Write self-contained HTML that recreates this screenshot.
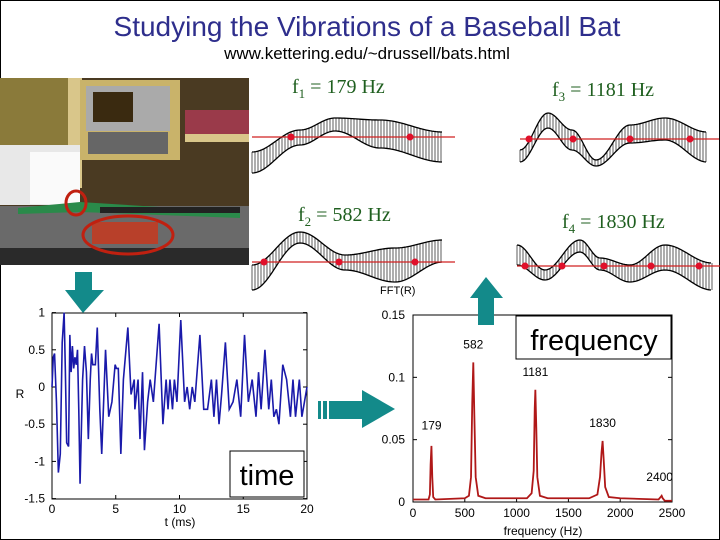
<!DOCTYPE html>
<html><head><meta charset="utf-8"><style>
body{margin:0;width:720px;height:540px;overflow:hidden;background:#fff;font-family:"Liberation Sans",sans-serif}
svg{position:absolute;left:0;top:0}
</style></head><body>
<svg width="720" height="540" viewBox="0 0 720 540">
<rect x="0.5" y="0.5" width="719" height="539" fill="#fff" stroke="#000"/>
<text x="367" y="36" text-anchor="middle" font-size="28" fill="#2e2e8c">Studying the Vibrations of a Baseball Bat</text>
<text x="367" y="59" text-anchor="middle" font-size="17" fill="#000">www.kettering.edu/~drussell/bats.html</text>
<g>
<rect x="0" y="78" width="249" height="187" fill="#4a3a22"/>
<rect x="0" y="78" width="70" height="110" fill="#8a7a3a"/>
<rect x="68" y="78" width="14" height="110" fill="#d9c68a"/>
<rect x="80" y="80" width="100" height="80" fill="#c9b36a"/>
<rect x="86" y="86" width="84" height="45" fill="#aaa"/>
<rect x="93" y="92" width="40" height="30" fill="#3a2a10"/>
<rect x="88" y="132" width="80" height="22" fill="#666"/>
<rect x="185" y="110" width="64" height="28" fill="#9a3a4a"/>
<rect x="185" y="134" width="64" height="8" fill="#d9c68a"/>
<rect x="0" y="145" width="80" height="60" fill="#e8e8e8"/>
<rect x="30" y="152" width="50" height="52" fill="#fafafa"/>
<rect x="0" y="206" width="249" height="45" fill="#6a6a6a"/>
<rect x="0" y="248" width="249" height="17" fill="#2a2a2a"/>
<path d="M18 208 L80 202 L240 212 L240 218 L80 212 L18 214Z" fill="#2a8a4a"/>
<rect x="100" y="207" width="140" height="6" fill="#222"/>
<rect x="92" y="222" width="66" height="22" fill="#b8402a"/>
<ellipse cx="76" cy="203" rx="10" ry="12" fill="none" stroke="#c02010" stroke-width="3"/>
<ellipse cx="128" cy="235" rx="45" ry="19" fill="none" stroke="#c02010" stroke-width="3"/>
</g>
<g id="modes"></g>
<text x="292" y="93" font-family="Liberation Serif,serif" font-size="20" fill="#1f5f1f">f<tspan font-size="13" dy="5">1</tspan><tspan dy="-5"> = 179 Hz</tspan></text>
<text x="552" y="96" font-family="Liberation Serif,serif" font-size="20" fill="#1f5f1f">f<tspan font-size="13" dy="5">3</tspan><tspan dy="-5"> = 1181 Hz</tspan></text>
<text x="298" y="221" font-family="Liberation Serif,serif" font-size="20" fill="#1f5f1f">f<tspan font-size="13" dy="5">2</tspan><tspan dy="-5"> = 582 Hz</tspan></text>
<text x="562" y="228" font-family="Liberation Serif,serif" font-size="20" fill="#1f5f1f">f<tspan font-size="13" dy="5">4</tspan><tspan dy="-5"> = 1830 Hz</tspan></text>
<g id="time"></g>
<g id="freq"></g>
<g fill="#138a8a">
<path d="M75 272 H92 V290 H104 L83 313 L65 290 H75Z"/>
<path d="M478 325 H494 V298 H503 L486 277 L470 298 H478Z"/>
<rect x="318" y="401" width="3" height="18"/><rect x="323" y="401" width="4" height="18"/><rect x="329" y="401" width="36" height="18"/>
<path d="M362 390 L395 409 L362 428Z"/>
</g>
</svg>
<script>
const timeT=[0,0.1,0.2,0.35,0.5,0.65,0.8,0.95,1.05,1.15,1.3,1.4,1.5,1.6,1.7,1.8,1.9,2.0,2.1,2.2,2.4,2.55,2.7,2.85,3.0,3.1,3.2,3.4,3.55,3.75,3.9,4.2,4.45,4.7,4.95,5.05,5.2,5.4,5.6,5.95,6.2,6.45,6.5,6.75,6.9,7.1,7.25,7.5,7.7,7.95,8.4,8.7,8.95,9.1,9.25,9.45,9.6,9.8,10.1,10.4,10.6,10.8,11.0,11.2,11.6,11.9,12.2,12.5,12.7,12.9,13.1,13.3,13.6,13.9,14.2,14.5,14.8,15.1,15.4,15.7,16.0,16.2,16.4,16.7,17.0,17.2,17.4,17.6,17.8,18.1,18.4,18.7,18.9,19.1,19.4,19.6,19.8,20];
const timeR=[0,0.4,0.45,-0.2,-1.15,-0.9,0.6,1.0,0.2,-0.75,-0.8,0.7,0.2,0.55,0.25,0.4,0.3,0.5,-0.3,-1.3,0.1,0.55,0.2,-0.7,0.1,0.45,0.3,0.3,0.8,-0.3,-0.9,0.5,-0.4,-0.2,0.3,0.25,0.25,-0.9,0.1,0.8,-0.1,0.1,-0.3,0.1,-0.7,0.2,-0.85,-0.2,0.1,-0.2,0.85,-0.5,0.1,-0.3,0.1,-0.3,0.1,-0.2,0.9,-0.2,0,-0.3,0,-0.2,0.7,-0.3,-0.3,0.1,-0.4,0.1,-0.5,-0.1,0.6,-0.3,-0.2,0.1,-0.4,0.7,-0.2,0.1,-0.4,0.2,-0.3,0.5,-0.3,0.1,-0.4,-0.3,-0.5,0.3,0.1,-0.4,0.1,-0.4,0.1,-0.4,-0.2,0];
const timeXTicks=[0,5,10,15,20];
const timeYTicks=[1,0.5,0,-0.5,-1,-1.5];
const fftF=[0,150,163,170,178,186,195,215,500,540,560,572,582,592,605,630,700,1100,1145,1165,1175,1181,1190,1200,1225,1300,1700,1780,1805,1820,1830,1840,1855,1890,2000,2370,2390,2400,2410,2430,2500];
const fftA=[0.002,0.002,0.006,0.03,0.045,0.02,0.004,0.002,0.003,0.005,0.02,0.08,0.112,0.07,0.02,0.005,0.003,0.003,0.007,0.025,0.075,0.09,0.06,0.02,0.005,0.003,0.003,0.006,0.02,0.04,0.049,0.035,0.012,0.004,0.003,0.002,0.004,0.005,0.003,0.001,0.001];
const fftXTicks=[0,500,1000,1500,2000,2500];
const fftYTicks=[0,0.05,0.1,0.15];
const peakF=[179,582,1181,1830,2400];
const peakLabelY=[0.058,0.123,0.101,0.06,0.017];
const NS='http://www.w3.org/2000/svg';
function mk(p,tag,at,txt){const e=document.createElementNS(NS,tag);for(const k in at)e.setAttribute(k,at[k]);if(txt!==undefined)e.textContent=txt;p.appendChild(e);return e;}
const T=document.getElementById('time');
const tx=t=>52+t/20*255, ty=r=>387-r*74.4;
let e;
e=mk(T,'rect',{x:52,y:313,width:255,height:186,fill:'none',stroke:'#000'});


timeXTicks.forEach(v=>{mk(T,'line',{x1:tx(v),x2:tx(v),y1:499,y2:495,stroke:'#000'});mk(T,'line',{x1:tx(v),x2:tx(v),y1:313,y2:317,stroke:'#000'});
e=mk(T,'text',{x:tx(v),y:513,'text-anchor':'middle','font-size':12},String(v));

});
timeYTicks.forEach(v=>{mk(T,'line',{x1:52,x2:56,y1:ty(v),y2:ty(v),stroke:'#000'});mk(T,'line',{x1:307,x2:303,y1:ty(v),y2:ty(v),stroke:'#000'});
e=mk(T,'text',{x:45,y:ty(v)+4,'text-anchor':'end','font-size':12},String(v));

});
e=mk(T,'text',{x:180,y:526,'text-anchor':'middle','font-size':12},'t (ms)');


e=mk(T,'text',{x:20,y:398,'text-anchor':'middle','font-size':12},'R');


e=mk(T,'polyline',{points:timeT.map((t,i)=>tx(t)+','+ty(timeR[i])).join(' '),fill:'none',stroke:'#1a1aaa','stroke-width':1.6});


e=mk(T,'rect',{x:230,y:451,width:74,height:46,fill:'#fff',stroke:'#000'});


e=mk(T,'text',{x:267,y:485,'text-anchor':'middle','font-size':29},'time');


const F=document.getElementById('freq');
const fx=f=>413+f/2500*259, fy=a=>502-a/0.15*187;
e=mk(F,'rect',{x:413,y:315,width:259,height:187,fill:'none',stroke:'#000'});


fftXTicks.forEach(v=>{mk(F,'line',{x1:fx(v),x2:fx(v),y1:502,y2:498,stroke:'#000'});
e=mk(F,'text',{x:fx(v),y:517,'text-anchor':'middle','font-size':12},String(v));

});
fftYTicks.forEach(v=>{mk(F,'line',{x1:413,x2:417,y1:fy(v),y2:fy(v),stroke:'#000'});mk(F,'line',{x1:672,x2:668,y1:fy(v),y2:fy(v),stroke:'#000'});
e=mk(F,'text',{x:405,y:fy(v)+4,'text-anchor':'end','font-size':12},String(v));

});
e=mk(F,'text',{x:543,y:535,'text-anchor':'middle','font-size':12},'frequency (Hz)');


e=mk(F,'text',{x:380,y:294,'font-size':11},'FFT(R)');


e=mk(F,'polyline',{points:fftF.map((f,i)=>fx(f)+','+fy(fftA[i])).join(' '),fill:'none',stroke:'#b01818','stroke-width':1.8});


peakF.forEach((f,i)=>{e=mk(F,'text',{x:fx(f)+(i==4?-2:0),y:fy(peakLabelY[i]),'text-anchor':'middle','font-size':12},String(f));

});
e=mk(F,'rect',{x:516,y:316,width:155,height:43,fill:'#fff',stroke:'#000'});


e=mk(F,'text',{x:594,y:350,'text-anchor':'middle','font-size':29},'frequency');


const M=document.getElementById('modes');
const modes=[
 {x0:252,x1:443,ly:137,top:[[252,152],[300,130],[335,118],[380,120],[443,132]],bot:[[252,173],[300,145],[335,131],[380,148],[443,162]],dots:[291,410]},
 {x0:520,x1:707,ly:139,top:[[520,150],[548,113],[572,130],[596,160],[630,125],[665,118],[707,132]],bot:[[520,162],[548,128],[572,150],[596,166],[630,143],[665,140],[707,162]],dots:[529,573,630,690]},
 {x0:252,x1:443,ly:262,top:[[252,265],[300,232],[345,255],[395,248],[443,240]],bot:[[252,290],[300,243],[345,270],[395,282],[443,262]],dots:[264,339,415]},
 {x0:517,x1:712,ly:266,top:[[517,245],[545,270],[580,240],[600,258],[630,265],[665,245],[712,263]],bot:[[517,265],[545,280],[580,252],[600,270],[630,282],[665,270],[712,290]],dots:[525,562,604,651,699]}];
function interp(pts,x){for(let i=0;i<pts.length-1;i++){const a=pts[i],b=pts[i+1];if(x>=a[0]&&x<=b[0]){const u=(x-a[0])/(b[0]-a[0]);const s=(1-Math.cos(Math.PI*u))/2;return a[1]+(b[1]-a[1])*s;}}return pts[pts.length-1][1];}
modes.forEach(m=>{
 for(let x=m.x0;x<=m.x1;x+=3){mk(M,'line',{x1:x,x2:x,y1:interp(m.top,x),y2:interp(m.bot,x),stroke:'#333','stroke-width':0.8});}
 let tp=[],bp=[];for(let x=m.x0;x<=m.x1;x+=2){tp.push(x+','+interp(m.top,x));bp.push(x+','+interp(m.bot,x));}
 mk(M,'polyline',{points:tp.join(' '),fill:'none',stroke:'#000','stroke-width':1.3});
 mk(M,'polyline',{points:bp.join(' '),fill:'none',stroke:'#000','stroke-width':1.3});
 mk(M,'line',{x1:m.x0,x2:m.x1+12,y1:m.ly,y2:m.ly,stroke:'#d02020','stroke-width':1.3});
 m.dots.forEach(d=>mk(M,'circle',{cx:d,cy:m.ly,r:3.5,fill:'#e0102a'}));
});
</script>
</body></html>
